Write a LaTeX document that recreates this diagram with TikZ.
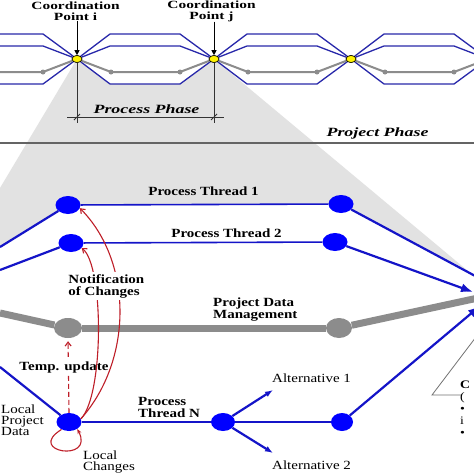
\documentclass[tikz,border=0pt]{standalone}
\usepackage{fontspec}
\setmainfont{Liberation Serif}
\usetikzlibrary{arrows.meta,shapes.geometric}
\definecolor{topblue}{RGB}{40,40,170}
\definecolor{lineblue}{RGB}{20,20,200}
\definecolor{nodeblue}{RGB}{0,0,255}
\definecolor{midgray}{RGB}{140,140,140}
\definecolor{fangray}{RGB}{226,226,226}
\definecolor{sepgray}{RGB}{100,100,100}
\definecolor{redarr}{RGB}{190,30,40}
\begin{document}
\begin{tikzpicture}[x=1pt,y=-1pt,
 hexline/.style={draw=topblue,line width=1.3pt},
 grayline/.style={draw=midgray,line width=2pt},
 cpoint/.style={ellipse,fill=yellow,draw=black,line width=0.6pt,inner sep=0pt,minimum width=10pt,minimum height=7pt},
 gdot/.style={circle,fill=midgray,inner sep=0pt,minimum size=5pt},
 bnode/.style={ellipse,fill=nodeblue,inner sep=0pt,minimum width=25pt,minimum height=18pt},
 gnode/.style={ellipse,fill=midgray,inner sep=0pt,minimum width=28pt,minimum height=20pt},
 bthin/.style={draw=lineblue,line width=1.6pt},
 bthick/.style={draw=lineblue,line width=2.2pt},
 barrow/.style={bthick,-{Latex[length=12pt,width=9pt]}},
 altarrow/.style={bthick,-{Latex[length=8pt,width=6pt]}},
 gthick/.style={draw=midgray,line width=7pt},
 redline/.style={draw=redarr,line width=1.1pt},
 redtip/.style={-{Straight Barb[length=4pt,width=6pt]}},
 toplbl/.style={font=\fontsize{11}{11}\selectfont\bfseries,inner sep=0pt,xscale=1.4,align=center},
 phaselbl/.style={font=\fontsize{12.6}{13}\selectfont\bfseries\itshape,inner sep=0pt,xscale=1.42},
 lbl/.style={font=\fontsize{12.5}{12}\selectfont\bfseries,inner sep=0pt,xscale=1.2,align=left},
 plainlbl/.style={font=\fontsize{12.5}{11}\selectfont,inner sep=0pt,xscale=1.2,align=left},
 dimline/.style={draw=black!80,line width=0.8pt},
 calloutline/.style={draw=black!55,line width=0.8pt}
]
\useasboundingbox (0,0) rectangle (474,474);
\clip (0,0) rectangle (474,474);
\fill[white] (0,0) rectangle (474,474);

% positions
\coordinate (P0) at (77,59);
\coordinate (P1) at (214,59);
\coordinate (P2) at (351,59);
\coordinate (A1) at (68,205);
\coordinate (B1) at (341,204);
\coordinate (A2) at (71,243);
\coordinate (B2) at (335,242);
\coordinate (G1) at (68,328);
\coordinate (G2) at (339,328);
\coordinate (N1) at (69,422);
\coordinate (F) at (223,422);
\coordinate (N2) at (342,422);
\coordinate (L1) at (0,247);
\coordinate (L2) at (0,270);
\coordinate (LG) at (0,313);
\coordinate (LN) at (0,367);
\coordinate (E1) at (492,285);
\coordinate (E2) at (473,292);
\coordinate (EG) at (478,298);
\coordinate (EN) at (480,306);
\coordinate (ALT1) at (273,390);
\coordinate (ALT2) at (273,453);

% gray projection fan
\fill[fangray] (P0) -- (110,84) -- (180,84) -- (P1) -- (474,276) -- (B1) -- (A1) -- (L1) -- (0,188) -- cycle;

% separator
\draw[sepgray,line width=1.8pt] (0,143) -- (474,143);

% top: coordination points and process hexagons
\node[cpoint] (p0) at (P0) {};
\node[cpoint] (p1) at (P1) {};
\node[cpoint] (p2) at (P2) {};
\coordinate (pm) at (-60,59);
\coordinate (p3) at (488,59);
\foreach \a/\b in {pm/p0,p0/p1,p1/p2,p2/p3}{
  \draw[hexline] (\a) -- ++(33,-25) -- ++(70,0) -- (\b);
  \draw[hexline] (\a) -- ++(33,-13) -- ++(70,0) -- (\b);
  \draw[hexline] (\a) -- ++(33,25) -- ++(70,0) -- (\b);
  \draw[grayline] (\a) -- ++(34,13) node[gdot] (dl\a) {} -- ++(69,0) node[gdot] (dr\a) {} -- (\b);
}
\node[cpoint] at (P0) {};
\node[cpoint] at (P1) {};
\node[cpoint] at (P2) {};

\node[toplbl] (cpi) at (75.5,11) {Coordination\\Point i};
\node[toplbl] (cpj) at (211.5,11) {Coordination\\Point j};
\draw[line width=0.8pt,-{Triangle[length=5pt,width=5pt]}] (p0 |- cpi.south) -- (p0.north);
\draw[line width=0.8pt,-{Triangle[length=5pt,width=5pt]}] (p1 |- cpj.south) -- (p1.north);

% process phase dimension
\coordinate (dimL) at (67,117);
\coordinate (dimR) at (224,117);
\draw[dimline] (p0.south) -- ++(0,60);
\draw[dimline] (p1.south) -- ++(0,60);
\draw[dimline] (dimL) -- (dimR);
\coordinate (t0) at (p0 |- dimL);
\coordinate (t1) at (p1 |- dimL);
\draw[dimline] (t0) ++(-3,3) -- ++(6,-6);
\draw[dimline] (t1) ++(-3,3) -- ++(6,-6);
\node[phaselbl,anchor=base] (pphase) at (146.5,113) {Process Phase};
\node[phaselbl,anchor=base] (prphase) at (377.5,136.5) {Project Phase};

% lower nodes
\node[bnode] (a1) at (A1) {};
\node[bnode] (b1) at (B1) {};
\node[bnode] (a2) at (A2) {};
\node[bnode] (b2) at (B2) {};
\node[gnode] (g1) at (G1) {};
\node[gnode,minimum width=26pt] (g2) at (G2) {};
\node[bnode] (n1) at (N1) {};
\node[bnode,minimum width=24pt] (f) at (F) {};
\node[bnode,minimum width=22pt] (n2) at (N2) {};

% threads
\draw[bthick] (L1) -- (a1);
\draw[bthin] (a1) -- (b1);
\draw[barrow] (b1) -- (E1);
\draw[bthick] (L2) -- (a2);
\draw[bthin] (a2) -- (b2);
\draw[barrow] (b2) -- (E2);
\draw[gthick] (LG) -- (g1);
\draw[gthick] (g1) -- (g2);
\draw[gthick] (g2) -- (EG);
\draw[bthick] (LN) -- (n1);
\draw[bthin] (n1) -- (f);
\draw[bthin] (f) -- (n2);
\draw[altarrow] (f) -- (ALT1);
\draw[altarrow] (f) -- (ALT2);
\draw[barrow] (n2) -- (EN);

% labels (multi-line: base anchor = last line)
\node[lbl,anchor=base] (pt1) at (203.5,195) {Process Thread 1};
\node[lbl,anchor=base] (pt2) at (226.5,237) {Process Thread 2};
\node[lbl,anchor=base west] (pdm) at (213,318) {Project Data\\Management};
\node[lbl,anchor=base west] (ptn) at (138,417) {Process\\Thread N};
\node[plainlbl,anchor=base west] (lpd) at (1,435) {Local\\Project\\Data};
\node[plainlbl,anchor=base west] (lch) at (83,470) {Local\\Changes};
\node[plainlbl,anchor=base west] (alt1) at (272,382) {Alternative 1};
\node[plainlbl,anchor=base west] (alt2) at (272,469) {Alternative 2};

% red relations
\draw[redline,dash pattern=on 5pt off 3pt,redtip,shorten >=3pt] (n1.north) -- (g1.south);
\node[lbl,anchor=base,fill=white,inner xsep=1pt,inner ysep=2pt] (temp) at (64,370) {Temp. update};
\draw[redline,redtip] (n1.15) .. controls (133,360) and (133,262) .. (a1.-15);
\draw[redline,redtip] (n1.15) .. controls (104,395) and (104,266) .. (a2.-25);
\draw[redline,-{Stealth[length=5pt,width=4pt]}] (n1.-135) .. controls (25,452) and (95,463) .. (n1.-40);
\node[lbl,anchor=base west,fill=white,inner xsep=1pt,inner ysep=2pt] (notif) at (67,295) {Notification\\of Changes};

% callout at right edge
\coordinate (co1) at (476,337);
\coordinate (co2) at (432,395);
\coordinate (co3) at (462,395);
\draw[calloutline] (co1) -- (co2) -- (co3);
\node[anchor=north west,inner sep=0pt,align=left,font=\fontsize{11.5}{12}\selectfont,xscale=1.2] (ctext) at (460,381) {\textbf{C}\\(\\\textbullet\\i\\\textbullet};
\end{tikzpicture}
\end{document}
